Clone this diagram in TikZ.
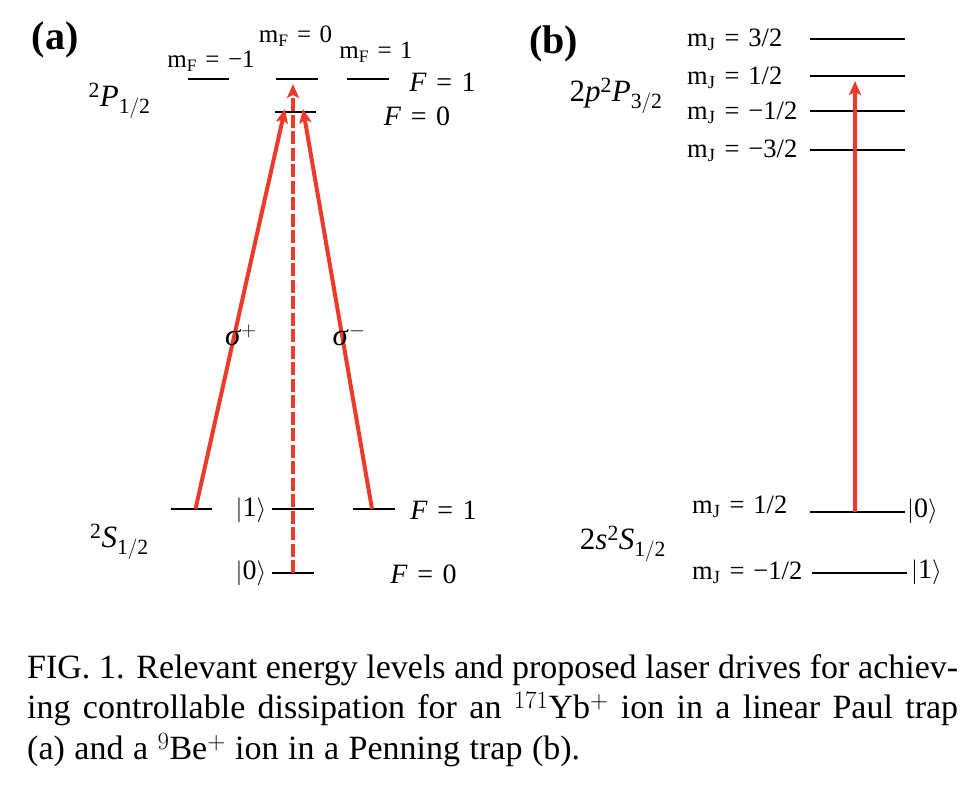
\documentclass[tikz,border=0pt]{standalone}
\usepackage{fontspec}
\setmainfont{Liberation Serif}
\usetikzlibrary{arrows.meta}
\definecolor{laser}{HTML}{EE3A2B}
\newcommand{\lbl}[1]{\fontsize{28}{32}\selectfont #1}
\newcommand{\lbt}[1]{\fontsize{31}{34}\selectfont #1}
\newcommand{\sml}[1]{\fontsize{25}{28}\selectfont #1}
\newcommand{\smj}[1]{\fontsize{26.5}{29}\selectfont #1}
\newcommand{\eqs}{\hspace{0.34em}=\hspace{0.34em}}
\newcommand{\mF}{m$_{\mathrm{F}}$}
\newcommand{\mJ}{m$_{\mathrm{J}}$}
\newcommand{\term}[3]{$^{\mathrm{#1}}$\textit{#2}$_{\mathrm{#3}}$}
\newcommand{\ket}[1]{$|$#1$\rangle$}
\begin{document}
\begin{tikzpicture}[x=1pt,y=-1pt,
  level/.style={line width=2.6pt,black},
  laserbeam/.style={line width=4pt,laser,-{Stealth[length=14pt,width=12pt,inset=3pt]}},
  laserdash/.style={laserbeam,dash pattern=on 13pt off 3.5pt},
  txt/.style={inner sep=0pt,anchor=center},
  panel/.style={txt,font=\fontsize{40}{44}\selectfont\bfseries},
  caption/.style={inner sep=0pt,anchor=base west,font=\fontsize{34}{39}\selectfont}]
\useasboundingbox (0,0) rectangle (976,792);
% panel (a) levels
\coordinate (pm1l) at (188,79); \coordinate (pm1r) at (229,79);
\coordinate (p0l) at (276,79);  \coordinate (p0r) at (318,79);
\coordinate (pp1l) at (347,79); \coordinate (pp1r) at (389,79);
\coordinate (pfl) at (275,112); \coordinate (pfr) at (316,112);
\coordinate (s1l) at (171,509); \coordinate (s1r) at (212,509);
\coordinate (s2l) at (272,509); \coordinate (s2r) at (314,509);
\coordinate (s3l) at (353,509); \coordinate (s3r) at (395,509);
\coordinate (s0l) at (272,573); \coordinate (s0r) at (314,573);
\foreach \a/\b in {pm1l/pm1r,p0l/p0r,pp1l/pp1r,pfl/pfr,s1l/s1r,s2l/s2r,s3l/s3r,s0l/s0r}
  \draw[level] (\a) -- (\b);
% panel (b) levels
\coordinate (b1l) at (810,39);  \coordinate (b1r) at (905,39);
\coordinate (b2l) at (810,76);  \coordinate (b2r) at (905,76);
\coordinate (b3l) at (810,111); \coordinate (b3r) at (905,111);
\coordinate (b4l) at (810,150); \coordinate (b4r) at (905,150);
\coordinate (b5l) at (810,512); \coordinate (b5r) at (905,512);
\coordinate (b6l) at (812,573); \coordinate (b6r) at (907,573);
\foreach \a/\b in {b1l/b1r,b2l/b2r,b3l/b3r,b4l/b4r,b5l/b5r,b6l/b6r}
  \draw[level] (\a) -- (\b);
% arrows
\coordinate (aL0) at (195.5,509); \coordinate (aL1) at (285,109);
\coordinate (aR0) at (372,509);   \coordinate (aR1) at (303,109);
\coordinate (aD0) at (293,573);   \coordinate (aD1) at (293,84);
\coordinate (bA0) at (855,512);   \coordinate (bA1) at (855,81);
\draw[laserbeam] (aL0) -- (aL1);
\draw[laserbeam] (aR0) -- (aR1);
\draw[laserdash] (aD0) -- (aD1);
\draw[laserbeam] (bA0) -- (bA1);
% texts
\node[panel] (pa) at (55,40) {(a)};
\node[panel] (pb) at (553.5,44) {(b)};
\node[txt] (t1) at (295.5,36) {\sml{\mF{}\eqs{}0}};
\node[txt] (t2) at (211,61) {\sml{\mF{}\eqs{}−1}};
\node[txt] (t3) at (376,52) {\sml{\mF{}\eqs{}1}};
\node[txt] (t4) at (119.5,101) {\lbt{\term{2}{P}{1/2}}};
\node[txt] (t5) at (442.5,82) {\lbl{\textit{F}\eqs{}1}};
\node[txt] (t6) at (417,116) {\lbl{\textit{F}\eqs{}0}};
\node[txt] (t7) at (241,335) {\lbt{\textit{σ}$^{+}$}};
\node[txt] (t8) at (349,335) {\lbt{\textit{σ}$^{-}$}};
\node[txt] (t9) at (119.5,542) {\lbt{\term{2}{S}{1/2}}};
\node[txt] (t10) at (251,510) {\lbl{\ket{1}}};
\node[txt] (t11) at (251,573) {\lbl{\ket{0}}};
\node[txt] (t12) at (443.5,510) {\lbl{\textit{F}\eqs{}1}};
\node[txt] (t13) at (423.5,574) {\lbl{\textit{F}\eqs{}0}};
\node[txt,anchor=west] (u1) at (687,40) {\smj{\mJ{}\eqs{}3/2}};
\node[txt,anchor=west] (u2) at (687,78) {\smj{\mJ{}\eqs{}1/2}};
\node[txt,anchor=west] (u3) at (687,113) {\smj{\mJ{}\eqs{}−1/2}};
\node[txt,anchor=west] (u4) at (687,151) {\smj{\mJ{}\eqs{}−3/2}};
\node[txt] (u5) at (616,96) {\lbt{2\textit{p}\term{2}{P}{3/2}}};
\node[txt,anchor=west] (u6) at (692,507) {\smj{\mJ{}\eqs{}1/2}};
\node[txt,anchor=west] (u7) at (692,573) {\smj{\mJ{}\eqs{}−1/2}};
\node[txt] (u8) at (623,544) {\lbt{2\textit{s}\term{2}{S}{1/2}}};
\node[txt,anchor=west] (u9) at (907,511) {\lbl{\ket{0}}};
\node[txt,anchor=west] (u10) at (911,572) {\lbl{\ket{1}}};
% caption
\node[caption] (c1) at (27,678) {\hbox to 931pt{FIG. 1. Relevant energy levels and proposed laser drives for achiev-}};
\node[caption] (c2) at (27,718) {\hbox to 931pt{ing controllable dissipation for an $^{171}$Yb$^{+}$ ion in a linear Paul trap}};
\node[caption] (c3) at (27,759) {\hbox to 553pt{(a) and a $^{9}$Be$^{+}$ ion in a Penning trap (b).}};
\end{tikzpicture}
\end{document}
